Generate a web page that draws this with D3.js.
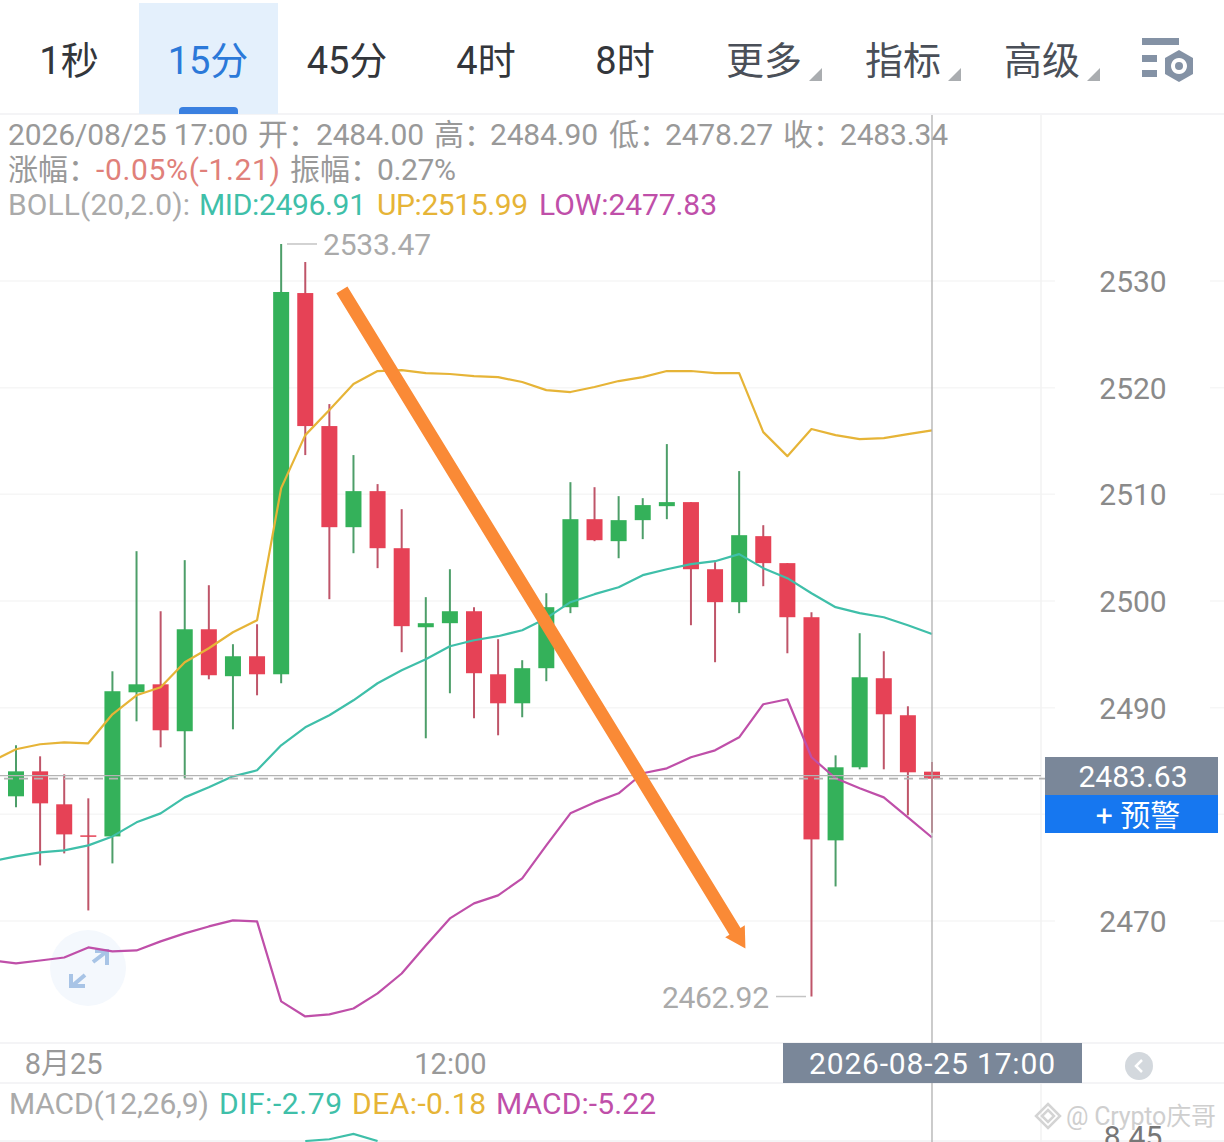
<!DOCTYPE html>
<html><head><meta charset="utf-8">
<script src="https://cdn.jsdelivr.net/npm/d3@7/dist/d3.min.js"></script>
<style>
html,body{margin:0;padding:0;background:#fff;overflow:hidden}
svg{display:block}
text{font-family:Roboto,"Noto Sans CJK SC",sans-serif}
</style></head><body>
<svg id="c" width="1224" height="1142"></svg>
<script>
const opens=[2481.69,2484.03,2480.94,2478.03,2477.93,2491.44,2492.19,2487.79,2497.35,2492.95,2494.82,2493.13,2528.87,2516.40,2506.92,2510.30,2504.95,2497.54,2497.92,2499.04,2493.13,2490.41,2493.70,2499.42,2507.67,2505.61,2507.58,2508.89,2509.27,2502.98,2499.89,2506.08,2503.55,2498.48,2477.56,2484.41,2492.76,2489.29,2484.00];
const highs=[2486.47,2485.44,2483.75,2481.50,2493.41,2504.67,2499.04,2503.83,2501.48,2495.95,2497.82,2533.47,2531.78,2518.46,2513.68,2510.96,2508.61,2500.36,2502.98,2499.42,2496.42,2494.45,2500.73,2511.14,2510.67,2509.83,2509.64,2514.71,2509.27,2503.64,2512.18,2507.11,2503.55,2498.95,2485.53,2496.98,2495.29,2490.13,2484.90];
const lows=[2480.66,2475.21,2476.34,2470.99,2475.40,2488.72,2486.28,2483.38,2492.66,2487.97,2491.16,2492.29,2513.68,2500.17,2504.48,2503.08,2495.20,2487.13,2491.35,2489.00,2487.41,2489.10,2492.48,2498.86,2505.61,2504.01,2505.80,2507.67,2497.73,2494.26,2498.86,2501.39,2495.10,2462.92,2473.24,2484.22,2484.22,2479.91,2478.27];
const closes=[2484.03,2481.03,2478.12,2477.98,2491.54,2492.19,2487.88,2497.35,2493.04,2494.82,2493.13,2528.97,2516.40,2506.92,2510.30,2504.95,2497.64,2497.92,2499.04,2493.23,2490.41,2493.70,2499.42,2507.67,2505.70,2507.58,2508.99,2509.27,2502.98,2499.89,2506.17,2503.55,2498.48,2477.65,2484.41,2492.85,2489.38,2483.94,2483.34];
// Bollinger bands: the first value belongs to the candle just left of the visible window
const mid=[2475.59,2476.06,2476.43,2476.62,2477.09,2477.93,2479.25,2480.09,2481.59,2482.53,2483.56,2484.13,2486.47,2488.16,2489.29,2490.69,2492.29,2493.51,2494.54,2495.76,2496.32,2496.70,2497.26,2498.39,2499.89,2500.64,2501.29,2502.42,2502.98,2503.45,2503.73,2504.39,2503.08,2502.14,2500.73,2499.42,2498.86,2498.48,2497.73,2496.91];
const up=[2484.97,2486.10,2486.57,2486.75,2486.66,2489.38,2491.16,2491.91,2494.26,2495.57,2497.07,2498.20,2510.58,2515.55,2517.90,2520.34,2521.56,2521.65,2521.37,2521.28,2521.09,2520.99,2520.53,2519.77,2519.59,2520.06,2520.62,2520.99,2521.56,2521.56,2521.37,2521.37,2515.83,2513.58,2516.12,2515.55,2515.18,2515.27,2515.65,2515.99];
const low=[2466.30,2466.02,2466.30,2466.58,2467.52,2467.15,2467.24,2468.09,2468.84,2469.49,2470.06,2469.96,2462.46,2461.05,2461.24,2461.80,2463.21,2465.08,2467.71,2470.24,2471.65,2472.40,2474.00,2477.09,2480.09,2481.12,2481.97,2483.85,2484.31,2485.35,2486.00,2487.22,2490.32,2490.79,2485.35,2483.38,2482.44,2481.59,2479.72,2477.83];
const priceTicks=[2530,2520,2510,2500,2490,2470];
const gridPrices=[2530,2520,2510,2500,2490,2480,2470];
const timeTickIdx=[2,18];
const timeTickLabels=["8月25","12:00"];
const tabs=["1秒","15分","45分","4时","8时","更多","指标","高级"];
const lastPrice=2483.63, closePrice=2483.34;
const difIdx=[12,13,14,15], difVals=[8.1,8.3,8.9,8.1];
const arrowFrom=[13.52,2529.16], arrowTo=[30.26,2467.43];

const svg=d3.select("#c");
const x=d3.scaleLinear().domain([0,38]).range([16,932]);
const y=d3.scaleLinear().domain([2470,2530]).range([921,281]);
const yMacd=d3.scaleLinear().domain([8.1,8.9]).range([1141,1134]);
const GREEN="#34b15a",RED="#e64256",GW="#4d9e69",RW="#bf5569";
const TEAL="#3fbfa9",GOLD="#e6b437",MAG="#bf4fa9",GREY="#999";

function T(g,t,px,py,o={}){const s=g.append("text").attr("x",px).attr("y",py).text(t)
  .attr("font-size",o.size||30).attr("fill",o.fill||GREY).attr("text-anchor",o.anchor||"start");
  if(o.len)s.attr("textLength",o.len).attr("lengthAdjust","spacing");return s;}

// frame lines
const grid=svg.append("g");
gridPrices.forEach(p=>{
  grid.append("line").attr("x1",0).attr("x2",1055).attr("y1",y(p)).attr("y2",y(p)).attr("stroke","#f6f6f6").attr("stroke-width",1.5);
  grid.append("line").attr("x1",1210).attr("x2",1224).attr("y1",y(p)).attr("y2",y(p)).attr("stroke","#f6f6f6").attr("stroke-width",1.5);
});
grid.append("line").attr("x1",1041).attr("x2",1041).attr("y1",115).attr("y2",1142).attr("stroke","#f2f2f2").attr("stroke-width",1.5);
[114,1043,1083,1141].forEach(v=>grid.append("line").attr("x1",0).attr("x2",1224).attr("y1",v).attr("y2",v).attr("stroke","#f1f1f3").attr("stroke-width",1.5));

// tabs
svg.append("rect").attr("x",139).attr("y",3).attr("width",139).attr("height",111).attr("fill","#e4f0fc");
svg.append("path").attr("d","M179 114v-3a4 4 0 0 1 4-4h51a4 4 0 0 1 4 4v3z").attr("fill","#3a80e0");
const tabX=[69,208,347,486,625,764,903,1042];
tabs.forEach((t,i)=>T(svg,t,tabX[i],74,{size:38,anchor:"middle",fill:i==1?"#2b79d9":(i<5?"#33363b":"#4a4f58")}));
[822,961,1100].forEach(r=>svg.append("path").attr("d",`M${r-13} 81L${r} 68V81Z`).attr("fill","#aaadb0"));
const ic=svg.append("g").attr("fill","#8492a5");
ic.append("rect").attr("x",1142).attr("y",38).attr("width",37).attr("height",7);
ic.append("rect").attr("x",1142).attr("y",55).attr("width",15).attr("height",7);
ic.append("rect").attr("x",1142).attr("y",70).attr("width",15).attr("height",7);
ic.append("path").attr("fill-rule","evenodd").attr("d","M1179 50l14 8v16l-14 8l-14-8v-16zM1179 58a8 8 0 1 0 .01 0z");
ic.append("circle").attr("cx",1179).attr("cy",66).attr("r",4);

// header rows
[["2026/08/25 17:00",8,240],["开：",258],["2484.00",316,108],["高：",434],["2484.90",490,108],["低：",609],["2478.27",665,108],["收：",783],["2483.34",840,108]].forEach(d=>T(svg,d[0],d[1],145,{len:d[2]}));
T(svg,"涨幅：",8,180);T(svg,"-0.05%(-1.21)",96,180,{fill:"#e0807a",len:184});T(svg,"振幅：",290,180);T(svg,"0.27%",377,180,{len:79});
T(svg,"BOLL(20,2.0):",8,215,{fill:"#aaa",len:182});T(svg,"MID:2496.91",199,215,{fill:TEAL,len:167});T(svg,"UP:2515.99",377,215,{fill:GOLD,len:151});T(svg,"LOW:2477.83",539,215,{fill:MAG,len:178});

// expand button
const ex=svg.append("g");
ex.append("circle").attr("cx",88).attr("cy",968).attr("r",38).attr("fill","#f4f8fd");
ex.append("path").attr("d","M93 962L106 952M95 951H107V965M85 975L72 986M71 974V986H85").attr("fill","none").attr("stroke","#a8c4e6").attr("stroke-width",4);

// candles
const idx=d3.range(opens.length);
const isUp=i=>closes[i]>=opens[i];
const cg=svg.append("g");
cg.selectAll("line").data(idx).join("line")
  .attr("x1",i=>x(i)).attr("x2",i=>x(i)).attr("y1",i=>y(highs[i])).attr("y2",i=>y(lows[i]))
  .attr("stroke",i=>isUp(i)?GW:RW).attr("stroke-width",2);
cg.selectAll("rect").data(idx).join("rect")
  .attr("x",i=>x(i)-8).attr("width",16)
  .attr("y",i=>y(Math.max(opens[i],closes[i])))
  .attr("height",i=>Math.max(1.5,Math.abs(y(opens[i])-y(closes[i]))))
  .attr("fill",i=>isUp(i)?GREEN:RED);

// bands
const ln=d3.line().x((d,i)=>x(i-1)).y(d=>y(d));
[[mid,TEAL],[up,GOLD],[low,MAG]].forEach(([a,c])=>svg.append("path").attr("d",ln(a)).attr("fill","none").attr("stroke",c).attr("stroke-width",2.2).attr("stroke-linejoin","round"));

// macd sliver
svg.append("path").attr("d",d3.line().x((d,i)=>x(difIdx[i])).y(d=>yMacd(d))(difVals)).attr("fill","none").attr("stroke",TEAL).attr("stroke-width",2.2);

// extreme labels
const hi=d3.max(highs),lo=d3.min(lows);
svg.append("line").attr("x1",287).attr("x2",317).attr("y1",y(hi)).attr("y2",y(hi)).attr("stroke","#c4c4c4").attr("stroke-width",1.5);
T(svg,hi.toFixed(2),323,255,{fill:"#aaa",len:108});
svg.append("line").attr("x1",776).attr("x2",806).attr("y1",y(lo)).attr("y2",y(lo)).attr("stroke","#c4c4c4").attr("stroke-width",1.5);
T(svg,lo.toFixed(2),662,1008,{fill:"#aaa",len:107});

// crosshair and close line
svg.append("line").attr("x1",0).attr("x2",1041).attr("y1",y(lastPrice)).attr("y2",y(lastPrice)).attr("stroke","#b4b4b4").attr("stroke-width",1.3);
svg.append("line").attr("x1",4).attr("x2",1045).attr("y1",y(closePrice)).attr("y2",y(closePrice)).attr("stroke","#b4b4b4").attr("stroke-width",1.8).attr("stroke-dasharray","9 6");
svg.append("line").attr("x1",x(38)).attr("x2",x(38)).attr("y1",115).attr("y2",1142).attr("stroke","#b0b0b0").attr("stroke-width",1.3);

// y axis
const ya=svg.append("g").attr("transform","translate(1133,1)").call(d3.axisRight(y).tickValues(priceTicks).tickSize(0).tickFormat(d3.format("d")));
ya.select(".domain").remove();
ya.selectAll("text").attr("x",0).attr("text-anchor","middle").attr("font-size",30).attr("fill","#8a8a8a").attr("font-family",'Roboto,"Noto Sans CJK SC",sans-serif');

// price tag
svg.append("rect").attr("x",1045).attr("y",757).attr("width",173).attr("height",38).attr("fill","#7a8799");
svg.append("rect").attr("x",1045).attr("y",795).attr("width",173).attr("height",38).attr("fill","#1677f0");
T(svg,lastPrice.toFixed(2),1133,787,{fill:"#fff",anchor:"middle"});
T(svg,"+ 预警",1138,826,{fill:"#fff",anchor:"middle"});

// x axis
const xa=svg.append("g").attr("transform","translate(0,1063)").call(d3.axisBottom(x).tickValues(timeTickIdx).tickSize(0).tickFormat((d,i)=>timeTickLabels[i]));
xa.select(".domain").remove();
xa.selectAll("text").attr("y",0).attr("dy","0.37em").attr("dx",(d,i)=>i==0?-1:0).attr("font-size",29).attr("fill",GREY).attr("font-family",'Roboto,"Noto Sans CJK SC",sans-serif');
svg.append("rect").attr("x",783).attr("y",1043).attr("width",299).attr("height",40).attr("fill","#7a8799");
T(svg,"2026-08-25 17:00",809,1074,{fill:"#fff",len:246});
svg.append("circle").attr("cx",1139).attr("cy",1066).attr("r",14).attr("fill","#d3d8dd");
svg.append("path").attr("d","M1142 1060L1136 1066L1142 1072").attr("fill","none").attr("stroke","#fff").attr("stroke-width",2.5);

// MACD row
T(svg,"MACD(12,26,9)",9,1114,{fill:"#aaa",len:200});T(svg,"DIF:-2.79",219,1114,{fill:TEAL,len:123});T(svg,"DEA:-0.18",352,1114,{fill:GOLD,len:134});T(svg,"MACD:-5.22",496,1114,{fill:MAG,len:160});
T(svg,"8.45",1133,1147,{anchor:"middle",fill:"#777"});

// watermark
svg.append("path").attr("d","M1048 1104L1060 1116L1048 1128L1036 1116ZM1048 1110L1054 1116L1048 1122L1042 1116Z").attr("fill","none").attr("stroke","#d4d4d4").attr("stroke-width",2.5);
T(svg,"@ Crypto庆哥",1066,1125,{size:25,fill:"#cfcfcf",len:150});

// arrow annotation
const ax0=x(arrowFrom[0]),ay0=y(arrowFrom[1]),ax1=x(arrowTo[0]),ay1=y(arrowTo[1]);
const L=Math.hypot(ax1-ax0,ay1-ay0),ux=(ax1-ax0)/L,uy=(ay1-ay0)/L,nx=-uy,ny=ux,hb=20,hw=11.5,sw=6.5;
const bx=ax1-ux*hb,by=ay1-uy*hb;
const pts=[[ax0+nx*sw,ay0+ny*sw],[bx+nx*sw,by+ny*sw],[bx+nx*hw,by+ny*hw],[ax1,ay1],[bx-nx*hw,by-ny*hw],[bx-nx*sw,by-ny*sw],[ax0-nx*sw,ay0-ny*sw]];
svg.append("polygon").attr("points",pts.map(p=>p.join(",")).join(" ")).attr("fill","#fa8a36");
</script>
</body></html>
